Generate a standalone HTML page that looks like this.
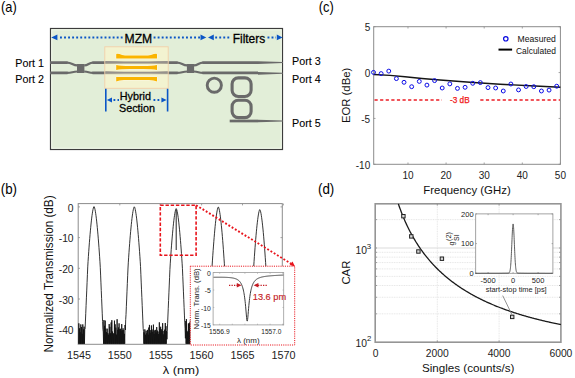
<!DOCTYPE html>
<html><head><meta charset="utf-8"><style>
html,body{margin:0;padding:0;background:#fff;width:575px;height:378px;overflow:hidden}
svg{display:block}
text{font-family:"Liberation Sans", sans-serif}
</style></head><body>
<svg width="575" height="378" viewBox="0 0 575 378">
<rect x="50.5" y="28.5" width="232" height="121" fill="#e2eed8" stroke="#3c3c3c" stroke-width="1.2"/>
<rect x="51.8" y="29.8" width="229.4" height="118.4" fill="none" stroke="#f2f8ec" stroke-width="1"/>
<text x="15.3" y="66.7" font-size="10.5" fill="#000" text-anchor="start" stroke="#000" stroke-width="0.1" textLength="28.6" lengthAdjust="spacingAndGlyphs" >Port 1</text>
<text x="15.3" y="82.8" font-size="10.5" fill="#000" text-anchor="start" stroke="#000" stroke-width="0.1" textLength="28.6" lengthAdjust="spacingAndGlyphs" >Port 2</text>
<text x="292.1" y="64.8" font-size="10.5" fill="#000" text-anchor="start" stroke="#000" stroke-width="0.1" textLength="28.6" lengthAdjust="spacingAndGlyphs" >Port 3</text>
<text x="292.1" y="82.6" font-size="10.5" fill="#000" text-anchor="start" stroke="#000" stroke-width="0.1" textLength="28.6" lengthAdjust="spacingAndGlyphs" >Port 4</text>
<text x="292.1" y="127.1" font-size="10.5" fill="#000" text-anchor="start" stroke="#000" stroke-width="0.1" textLength="28.6" lengthAdjust="spacingAndGlyphs" >Port 5</text>
<path d="M50,62.6 H67.5 M92.5,62.6 H177.5 M202.5,62.6 H258 M50,72.9 H67.5 M92.5,72.9 H177.5 M202.5,72.9 H258" fill="none" stroke="#6a6a6a" stroke-width="2.6"/>
<path d="M67,62.6 C72.30,62.60 72.30,65.40 77.60,65.40 M67,72.9 C72.30,72.90 72.30,71.50 77.60,71.50 M177,62.6 C182.20,62.60 182.20,65.40 187.40,65.40 M177,72.9 C182.20,72.90 182.20,71.50 187.40,71.50 M84.2,65.4 C88.60,65.40 88.60,62.60 93.00,62.60 M84.2,71.5 C88.60,71.50 88.60,72.90 93.00,72.90 M193.8,65.4 C198.40,65.40 198.40,62.60 203.00,62.60 M193.8,71.5 C198.40,71.50 198.40,72.90 203.00,72.90 " fill="none" stroke="#6a6a6a" stroke-width="2.2"/>
<rect x="77" y="64" width="7.4" height="9" fill="#6a6a6a"/>
<rect x="186.9" y="64" width="7.2" height="9" fill="#6a6a6a"/>
<path d="M258,61.25 L283,62.1 L283,63.1 L258,63.95 Z" fill="#6a6a6a"/>
<path d="M258,71.95000000000002 L283,72.80000000000001 L283,73.80000000000001 L258,74.65 Z" fill="#6a6a6a"/>
<path d="M258,119.65 L283,120.5 L283,121.5 L258,122.35 Z" fill="#6a6a6a"/>
<path d="M229.7,121 L258,121" stroke="#6a6a6a" stroke-width="2.7"/>
<circle cx="214.3" cy="85.2" r="7.1" fill="none" stroke="#6a6a6a" stroke-width="2.9"/>
<rect x="232.1" y="77.9" width="19.0" height="18.6" rx="6.2" fill="none" stroke="#6a6a6a" stroke-width="3.1"/>
<rect x="232.1" y="100.2" width="19.0" height="17.4" rx="6.2" fill="none" stroke="#6a6a6a" stroke-width="3.1"/>
<rect x="104.8" y="46.8" width="63.4" height="41.5" fill="rgba(255,246,202,0.58)" stroke="#f3cfa8" stroke-width="0.9"/>
<path d="M105.3,61.050000000000004 L116,61.35 L124,61.650000000000006 L149,61.650000000000006 L157,61.35 L167.7,61.050000000000004 L167.7,63.550000000000004 L157,63.25000000000001 L149,62.95 L124,62.95 L116,63.25000000000001 L105.3,63.550000000000004 Z" fill="#97928c"/>
<path d="M105.3,71.35000000000001 L116,71.65 L124,71.95 L149,71.95 L157,71.65 L167.7,71.35000000000001 L167.7,73.85000000000001 L157,73.55000000000001 L149,73.25000000000001 L124,73.25000000000001 L116,73.55000000000001 L105.3,73.85000000000001 Z" fill="#97928c"/>
<path d="M116.2,58.6 L116.2,54.6 Q116.2,53.7 117.2,53.8 L119.5,54.1 Q122,55.5 125,55.5 L148,55.5 Q151,55.5 153.8,54.1 L156,53.8 Q157,53.7 157,54.6 L157,58.6 Z" fill="#fab400" stroke="#fffbe6" stroke-width="0.9" paint-order="stroke" stroke-linejoin="round"/>
<path d="M116.2,64.9 Q121,65.9 130,65.9 L143,65.9 Q152,65.9 157,64.9 L157,69.9 Q152,68.9 143,68.9 L130,68.9 Q121,68.9 116.2,69.9 Z" fill="#fab400" stroke="#fffbe6" stroke-width="0.9" paint-order="stroke" stroke-linejoin="round"/>
<path d="M116.2,77.1 L157,77.1 L157,81.6 Q154,80.1 149,80.0 L124,80.0 Q119,80.1 116.2,81.6 Z" fill="#fab400" stroke="#fffbe6" stroke-width="0.9" paint-order="stroke" stroke-linejoin="round"/>
<path d="M105.8,88.8 V111.5 M167.6,88.8 V111.5" stroke="#0b56c6" stroke-width="1.6"/>
<path d="M106.8,100 L112,97.4 L112,102.6 Z M166.6,100 L161.4,97.4 L161.4,102.6 Z" fill="#0b56c6"/>
<path d="M113.5,100 H119 M153.5,100 H160" stroke="#0b56c6" stroke-width="1.8" stroke-dasharray="1.8 2.2"/>
<text x="119.8" y="99.8" font-size="11" fill="#000" text-anchor="start" stroke="#000" stroke-width="0.28" textLength="31.2" lengthAdjust="spacingAndGlyphs" >Hybrid</text>
<text x="119.0" y="112.3" font-size="11" fill="#000" text-anchor="start" stroke="#000" stroke-width="0.28" textLength="36" lengthAdjust="spacingAndGlyphs" >Section</text>
<path d="M51.2,37.4 L57.4,34.6 L57.4,40.2 Z M206.3,37.4 L200.5,34.6 L200.5,40.2 Z M208,37.4 L213.8,34.6 L213.8,40.2 Z M282.6,37.4 L276.8,34.6 L276.8,40.2 Z" fill="#0b56c6"/>
<path d="M60.0,37.4 H123 M153.6,37.4 H200 M215.2,37.4 H231 M267.5,37.4 H276" stroke="#0b56c6" stroke-width="2.0" stroke-dasharray="1.9 2.15"/>
<text x="124.6" y="42.7" font-size="12.4" fill="#000" text-anchor="start" stroke="#000" stroke-width="0.28" textLength="27.6" lengthAdjust="spacingAndGlyphs" >MZM</text>
<text x="232.7" y="42.9" font-size="12.2" fill="#000" text-anchor="start" stroke="#000" stroke-width="0.28" textLength="32.5" lengthAdjust="spacingAndGlyphs" >Filters</text>
<text x="1.0" y="12.0" font-size="14.6" fill="#000" text-anchor="start" textLength="15.7" lengthAdjust="spacingAndGlyphs" >(a)</text>
<rect x="373.7" y="26.7" width="186.7" height="137.6" fill="none" stroke="#8c8c8c" stroke-width="1"/>
<path d="M407.99,164.3 v-1.8 M407.99,26.7 v1.8 M446.09,164.3 v-1.8 M446.09,26.7 v1.8 M484.20,164.3 v-1.8 M484.20,26.7 v1.8 M522.30,164.3 v-1.8 M522.30,26.7 v1.8 M560.40,164.3 v-1.8 M560.40,26.7 v1.8 M373.7,26.70 h1.8 M560.4,26.70 h-1.8 M373.7,72.57 h1.8 M560.4,72.57 h-1.8 M373.7,118.43 h1.8 M560.4,118.43 h-1.8 M373.7,164.30 h1.8 M560.4,164.30 h-1.8 " stroke="#8c8c8c" stroke-width="0.8"/>
<text x="407.99" y="179.1" font-size="10" fill="#222" text-anchor="middle" >10</text>
<text x="446.09" y="179.1" font-size="10" fill="#222" text-anchor="middle" >20</text>
<text x="484.20" y="179.1" font-size="10" fill="#222" text-anchor="middle" >30</text>
<text x="522.30" y="179.1" font-size="10" fill="#222" text-anchor="middle" >40</text>
<text x="560.40" y="179.1" font-size="10" fill="#222" text-anchor="middle" >50</text>
<text x="370.2" y="31.40" font-size="10" fill="#222" text-anchor="end" >5</text>
<text x="370.2" y="77.27" font-size="10" fill="#222" text-anchor="end" >0</text>
<text x="370.2" y="123.13" font-size="10" fill="#222" text-anchor="end" >-5</text>
<text x="370.2" y="169.00" font-size="10" fill="#222" text-anchor="end" >-10</text>
<text x="423.3" y="193.5" font-size="11.4" fill="#111" text-anchor="start" textLength="87.4" lengthAdjust="spacingAndGlyphs" >Frequency (GHz)</text>
<text x="350.0" y="95.4" font-size="11.3" fill="#111" text-anchor="middle" textLength="55.4" lengthAdjust="spacingAndGlyphs" transform="rotate(-90 350.0 95.4)" >EOR (dBe)</text>
<path d="M374.5,100.1 H442 M480.3,100.1 H560" stroke="#ec1c24" stroke-width="1.5" stroke-dasharray="3.2 2.4"/>
<text x="450.0" y="103.1" font-size="8.8" fill="#f01818" text-anchor="start" textLength="19.6" lengthAdjust="spacingAndGlyphs" stroke="#f01818" stroke-width="0.25">-3 dB</text>
<path d="M373.70,74.50 L390.00,75.40 L405.00,76.80 L422.00,78.50 L440.00,80.00 L470.00,82.30 L500.00,84.20 L530.00,85.80 L560.40,87.30" fill="none" stroke="#151515" stroke-width="1.4"/>
<circle cx="373.50" cy="72.4" r="1.95" fill="none" stroke="#0a0ae6" stroke-width="1.0"/>
<circle cx="381.13" cy="73.6" r="1.95" fill="none" stroke="#0a0ae6" stroke-width="1.0"/>
<circle cx="388.77" cy="71.1" r="1.95" fill="none" stroke="#0a0ae6" stroke-width="1.0"/>
<circle cx="396.40" cy="78.6" r="1.95" fill="none" stroke="#0a0ae6" stroke-width="1.0"/>
<circle cx="404.03" cy="82.3" r="1.95" fill="none" stroke="#0a0ae6" stroke-width="1.0"/>
<circle cx="411.67" cy="86.7" r="1.95" fill="none" stroke="#0a0ae6" stroke-width="1.0"/>
<circle cx="419.30" cy="81.4" r="1.95" fill="none" stroke="#0a0ae6" stroke-width="1.0"/>
<circle cx="426.93" cy="85.1" r="1.95" fill="none" stroke="#0a0ae6" stroke-width="1.0"/>
<circle cx="434.56" cy="80.6" r="1.95" fill="none" stroke="#0a0ae6" stroke-width="1.0"/>
<circle cx="442.20" cy="88.0" r="1.95" fill="none" stroke="#0a0ae6" stroke-width="1.0"/>
<circle cx="449.83" cy="83.9" r="1.95" fill="none" stroke="#0a0ae6" stroke-width="1.0"/>
<circle cx="457.46" cy="88.4" r="1.95" fill="none" stroke="#0a0ae6" stroke-width="1.0"/>
<circle cx="465.10" cy="87.3" r="1.95" fill="none" stroke="#0a0ae6" stroke-width="1.0"/>
<circle cx="472.73" cy="83.3" r="1.95" fill="none" stroke="#0a0ae6" stroke-width="1.0"/>
<circle cx="480.36" cy="82.6" r="1.95" fill="none" stroke="#0a0ae6" stroke-width="1.0"/>
<circle cx="488.00" cy="87.6" r="1.95" fill="none" stroke="#0a0ae6" stroke-width="1.0"/>
<circle cx="495.63" cy="88.0" r="1.95" fill="none" stroke="#0a0ae6" stroke-width="1.0"/>
<circle cx="503.26" cy="91.0" r="1.95" fill="none" stroke="#0a0ae6" stroke-width="1.0"/>
<circle cx="510.89" cy="84.0" r="1.95" fill="none" stroke="#0a0ae6" stroke-width="1.0"/>
<circle cx="518.53" cy="89.9" r="1.95" fill="none" stroke="#0a0ae6" stroke-width="1.0"/>
<circle cx="526.16" cy="86.5" r="1.95" fill="none" stroke="#0a0ae6" stroke-width="1.0"/>
<circle cx="533.79" cy="86.7" r="1.95" fill="none" stroke="#0a0ae6" stroke-width="1.0"/>
<circle cx="541.43" cy="91.0" r="1.95" fill="none" stroke="#0a0ae6" stroke-width="1.0"/>
<circle cx="549.06" cy="90.1" r="1.95" fill="none" stroke="#0a0ae6" stroke-width="1.0"/>
<circle cx="556.69" cy="86.2" r="1.95" fill="none" stroke="#0a0ae6" stroke-width="1.0"/>
<circle cx="505.8" cy="38.8" r="2.2" fill="none" stroke="#0a0ae0" stroke-width="1.2"/>
<path d="M498.5,49.6 H512.1" stroke="#000" stroke-width="2"/>
<text x="517.6" y="42.2" font-size="8.7" fill="#111" text-anchor="start" textLength="38.3" lengthAdjust="spacingAndGlyphs" >Measured</text>
<text x="516.0" y="53.5" font-size="8.7" fill="#111" text-anchor="start" textLength="39.9" lengthAdjust="spacingAndGlyphs" >Calculated</text>
<text x="318.7" y="12.1" font-size="14.6" fill="#000" text-anchor="start" textLength="15.0" lengthAdjust="spacingAndGlyphs" >(c)</text>
<rect x="78.2" y="203.6" width="204.1" height="140.7" fill="none" stroke="#8c8c8c" stroke-width="1"/>
<path d="M119.80,344.3 v-1.8 M119.80,203.6 v1.8 M160.70,344.3 v-1.8 M160.70,203.6 v1.8 M201.60,344.3 v-1.8 M201.60,203.6 v1.8 M242.50,344.3 v-1.8 M242.50,203.6 v1.8 M283.40,344.3 v-1.8 M283.40,203.6 v1.8 M78.2,206.90 h1.8 M282.3,206.90 h-1.8 M78.2,237.60 h1.8 M282.3,237.60 h-1.8 M78.2,268.30 h1.8 M282.3,268.30 h-1.8 M78.2,299.00 h1.8 M282.3,299.00 h-1.8 M78.2,329.70 h1.8 M282.3,329.70 h-1.8 " stroke="#8c8c8c" stroke-width="0.8"/>
<text x="78.90" y="359.1" font-size="10.8" fill="#222" text-anchor="middle" >1545</text>
<text x="119.80" y="359.1" font-size="10.8" fill="#222" text-anchor="middle" >1550</text>
<text x="160.70" y="359.1" font-size="10.8" fill="#222" text-anchor="middle" >1555</text>
<text x="201.60" y="359.1" font-size="10.8" fill="#222" text-anchor="middle" >1560</text>
<text x="242.50" y="359.1" font-size="10.8" fill="#222" text-anchor="middle" >1565</text>
<text x="283.40" y="359.1" font-size="10.8" fill="#222" text-anchor="middle" >1570</text>
<text x="73.6" y="211.50" font-size="10.3" fill="#222" text-anchor="end" >0</text>
<text x="73.6" y="242.20" font-size="10.3" fill="#222" text-anchor="end" >-10</text>
<text x="73.6" y="272.90" font-size="10.3" fill="#222" text-anchor="end" >-20</text>
<text x="73.6" y="303.60" font-size="10.3" fill="#222" text-anchor="end" >-30</text>
<text x="73.6" y="334.30" font-size="10.3" fill="#222" text-anchor="end" >-40</text>
<text x="53.0" y="273.9" font-size="12.0" fill="#111" text-anchor="middle" textLength="157" lengthAdjust="spacingAndGlyphs" transform="rotate(-90 53.0 273.9)" >Normalized Transmission (dB)</text>
<text x="162.8" y="374.2" font-size="11.4" fill="#111" text-anchor="start" textLength="36.5" lengthAdjust="spacingAndGlyphs" >λ (nm)</text>
<text x="0.7" y="194.1" font-size="14.6" fill="#000" text-anchor="start" textLength="16.3" lengthAdjust="spacingAndGlyphs" >(b)</text>
<path d="M78.50,343.80 L78.83,323.35 L79.16,343.80 L79.49,328.34 L79.82,343.80 L80.15,332.23 L80.48,343.80 L80.81,324.43 L81.14,343.80 L81.47,327.00 L81.80,343.80 L82.13,333.82 L82.46,343.80 L82.79,324.40 L83.12,343.80 L83.45,329.46 L83.78,343.80 L84.11,326.71 L84.44,343.80 L84.77,329.15 L85.10,328.81 L85.43,321.07 L85.76,313.33 L86.09,305.58 L86.42,297.84 L86.75,290.10 L87.08,282.36 L87.41,274.62 L87.74,266.87 L88.07,261.38 L88.40,256.45 L88.73,251.69 L89.06,247.13 L89.39,242.76 L89.72,238.59 L90.05,234.62 L90.38,230.87 L90.71,227.32 L91.04,224.01 L91.37,220.92 L91.70,218.08 L92.03,215.49 L92.36,213.17 L92.69,211.14 L93.02,209.41 L93.35,208.03 L93.68,207.04 L94.01,206.60 L94.34,207.09 L94.67,208.10 L95.00,209.50 L95.33,211.25 L95.66,213.30 L95.99,215.64 L96.32,218.25 L96.65,221.10 L96.98,224.20 L97.31,227.53 L97.64,231.09 L97.97,234.86 L98.30,238.84 L98.63,243.02 L98.96,247.40 L99.29,251.98 L99.62,256.74 L99.95,261.69 L100.28,267.34 L100.61,275.08 L100.94,282.83 L101.27,290.57 L101.60,298.31 L101.93,306.05 L102.26,313.80 L102.59,321.54 L102.92,329.28 L103.25,331.91 L103.58,343.80 L103.91,320.08 L104.24,343.80 L104.57,325.80 L104.90,343.80 L105.23,320.61 L105.56,343.80 L105.89,328.65 L106.22,343.80 L106.55,332.13 L106.88,343.80 L107.21,328.67 L107.54,343.80 L107.87,333.05 L108.20,343.80 L108.53,334.63 L108.86,343.80 L109.19,324.07 L109.52,343.80 L109.85,326.85 L110.18,343.80 L110.51,333.30 L110.84,343.80 L111.17,322.44 L111.50,343.80 L111.83,320.18 L112.16,343.80 L112.49,331.57 L112.82,343.80 L113.15,333.37 L113.48,343.80 L113.81,333.56 L114.14,343.80 L114.47,320.65 L114.80,343.80 L115.13,324.33 L115.46,343.80 L115.79,327.65 L116.12,343.80 L116.45,334.65 L116.78,343.80 L117.11,319.23 L117.44,343.80 L117.77,329.79 L118.10,343.80 L118.43,327.45 L118.76,343.80 L119.09,323.37 L119.42,343.80 L119.75,329.20 L120.08,343.80 L120.41,328.78 L120.74,343.80 L121.07,330.65 L121.40,343.80 L121.73,324.08 L122.06,343.80 L122.39,330.19 L122.72,343.80 L123.05,328.32 L123.38,343.80 L123.71,330.01 L124.04,343.80 L124.37,333.85 L124.70,343.80 L125.03,324.99 L125.36,329.95 L125.69,319.61 L126.02,314.47 L126.35,306.72 L126.68,298.98 L127.01,291.24 L127.34,283.50 L127.67,275.75 L128.00,268.01 L128.33,262.20 L128.66,257.23 L128.99,252.46 L129.32,247.87 L129.65,243.48 L129.98,239.28 L130.31,235.29 L130.64,231.51 L130.97,227.94 L131.30,224.60 L131.63,221.48 L131.96,218.61 L132.29,215.99 L132.62,213.64 L132.95,211.57 L133.28,209.80 L133.61,208.37 L133.94,207.34 L134.27,206.81 L134.60,207.20 L134.93,208.16 L135.26,209.52 L135.59,211.22 L135.92,213.24 L136.25,215.54 L136.58,218.12 L136.91,220.94 L137.24,224.01 L137.57,227.32 L137.90,230.84 L138.23,234.59 L138.56,238.54 L138.89,242.70 L139.22,247.06 L139.55,251.61 L139.88,256.35 L140.21,261.28 L140.54,266.60 L140.87,274.35 L141.20,282.09 L141.53,289.83 L141.86,297.57 L142.19,305.31 L142.52,313.06 L142.85,320.80 L143.18,328.54 L143.51,331.30 L143.84,343.80 L144.17,332.57 L144.50,343.80 L144.83,329.37 L145.16,343.80 L145.49,334.68 L145.82,343.80 L146.15,330.73 L146.48,343.80 L146.81,333.27 L147.14,343.80 L147.47,329.88 L147.80,343.80 L148.13,334.73 L148.46,343.80 L148.79,327.56 L149.12,343.80 L149.45,324.91 L149.78,343.80 L150.11,332.82 L150.44,343.80 L150.77,330.13 L151.10,343.80 L151.43,325.48 L151.76,343.80 L152.09,329.55 L152.42,343.80 L152.75,331.77 L153.08,343.80 L153.41,324.63 L153.74,343.80 L154.07,333.90 L154.40,343.80 L154.73,330.45 L155.06,343.80 L155.39,329.87 L155.72,343.80 L156.05,332.48 L156.38,343.80 L156.71,327.08 L157.04,343.80 L157.37,330.55 L157.70,343.80 L158.03,331.53 L158.36,343.80 L158.69,334.01 L159.02,343.80 L159.35,322.35 L159.68,343.80 L160.01,328.52 L160.34,343.80 L160.67,326.75 L161.00,343.80 L161.33,329.34 L161.66,343.80 L161.99,330.97 L162.32,343.80 L162.65,323.15 L162.98,343.80 L163.31,334.36 L163.64,343.80 L163.97,331.02 L164.30,343.80 L164.63,329.69 L164.96,343.80 L165.29,322.99 L165.62,343.80 L165.95,326.17 L166.28,343.80 L166.61,330.96 L166.94,339.26 L167.27,331.52 L167.60,323.77 L167.93,316.03 L168.26,308.29 L168.59,300.55 L168.92,292.80 L169.25,285.06 L169.58,277.32 L169.91,269.58 L170.24,263.84 L170.57,258.89 L170.90,254.12 L171.23,249.54 L171.56,245.15 L171.89,240.96 L172.22,236.97 L172.55,233.20 L172.88,229.64 L173.21,226.30 L173.54,223.19 L173.87,220.33 L174.20,217.72 L174.53,215.37 L174.86,213.31 L175.19,211.55 L175.52,210.14 L175.85,209.11 L176.18,208.60 L176.51,209.02 L176.84,209.99 L177.17,211.36 L177.50,213.08 L177.83,215.10 L178.16,217.42 L178.49,220.00 L178.82,222.83 L179.15,225.91 L179.48,229.22 L179.81,232.75 L180.14,236.51 L180.47,240.47 L180.80,244.63 L181.13,248.99 L181.46,253.55 L181.79,258.30 L182.12,263.23 L182.45,268.64 L182.78,276.38 L183.11,284.12 L183.44,291.86 L183.77,299.61 L184.10,307.35 L184.43,315.09 L184.76,322.83 L185.09,328.65 L185.42,338.32 L185.75,321.07 L186.08,343.80 L186.41,319.09 L186.74,343.80 L187.07,330.90 L187.40,343.80 L187.73,332.15 L188.06,343.80 L188.39,323.45 L188.72,343.80 L189.05,323.70 L189.38,343.80 L189.71,322.56 L190.04,343.80 L190.37,320.07 L190.70,343.80 L191.03,331.92 L191.36,343.80 L191.69,333.44 L192.02,343.80 L192.35,323.79 L192.68,343.80 L193.01,329.93 L193.34,343.80 L193.67,325.70 L194.00,343.80 L194.33,329.17 L194.66,343.80 L194.99,328.76 L195.32,343.80 L195.65,329.65 L195.98,343.80 L196.31,330.43 L196.64,343.80 L196.97,331.98 L197.30,343.80 L197.63,323.01 L197.96,343.80 L198.29,333.19 L198.62,343.80 L198.95,330.54 L199.28,343.80 L199.61,324.88 L199.94,343.80 L200.27,326.40 L200.60,343.80 L200.93,326.76 L201.26,343.80 L201.59,324.03 L201.92,343.80 L202.25,325.66 L202.58,343.80 L202.91,329.57 L203.24,343.80 L203.57,322.28 L203.90,343.80 L204.23,330.69 L204.56,343.80 L204.89,329.82 L205.22,343.80 L205.55,328.27 L205.88,343.80 L206.21,331.16 L206.54,343.80 L206.87,332.76 L207.20,343.80 L207.53,328.29 L207.86,343.80 L208.19,328.27 L208.52,343.80 L208.85,329.56 L209.18,334.37 L209.51,325.45 L209.84,318.89 L210.17,311.15 L210.50,303.40 L210.83,295.66 L211.16,287.92 L211.49,280.18 L211.82,272.43 L212.15,265.18 L212.48,260.12 L212.81,255.24 L213.14,250.55 L213.47,246.05 L213.80,241.75 L214.13,237.64 L214.46,233.75 L214.79,230.06 L215.12,226.59 L215.45,223.35 L215.78,220.35 L216.11,217.59 L216.44,215.09 L216.77,212.86 L217.10,210.92 L217.43,209.31 L217.76,208.05 L218.09,207.22 L218.42,207.09 L218.75,207.78 L219.08,208.93 L219.41,210.45 L219.74,212.30 L220.07,214.45 L220.40,216.88 L220.73,219.57 L221.06,222.51 L221.39,225.69 L221.72,229.09 L222.05,232.72 L222.38,236.56 L222.71,240.61 L223.04,244.86 L223.37,249.30 L223.70,253.94 L224.03,258.77 L224.36,263.78 L224.69,270.32 L225.02,278.06 L225.35,285.81 L225.68,293.55 L226.01,301.29 L226.34,309.03 L226.67,316.78 L227.00,324.52 L227.33,325.51 L227.66,340.00 L227.99,325.22 L228.32,343.80 L228.65,333.18 L228.98,343.80 L229.31,328.20 L229.64,343.80 L229.97,327.16 L230.30,343.80 L230.63,326.93 L230.96,343.80 L231.29,333.71 L231.62,343.80 L231.95,329.75 L232.28,343.80 L232.61,326.20 L232.94,343.80 L233.27,320.46 L233.60,343.80 L233.93,319.26 L234.26,343.80 L234.59,333.12 L234.92,343.80 L235.25,329.48 L235.58,343.80 L235.91,317.66 L236.24,343.80 L236.57,318.26 L236.90,343.80 L237.23,334.36 L237.56,343.80 L237.89,325.52 L238.22,343.80 L238.55,332.42 L238.88,343.80 L239.21,326.80 L239.54,343.80 L239.87,327.50 L240.20,343.80 L240.53,332.09 L240.86,343.80 L241.19,329.68 L241.52,343.80 L241.85,334.94 L242.18,343.80 L242.51,321.21 L242.84,343.80 L243.17,331.03 L243.50,343.80 L243.83,331.91 L244.16,343.80 L244.49,329.42 L244.82,343.80 L245.15,324.02 L245.48,343.80 L245.81,320.34 L246.14,343.80 L246.47,326.86 L246.80,343.80 L247.13,319.88 L247.46,343.80 L247.79,329.74 L248.12,343.80 L248.45,332.51 L248.78,343.80 L249.11,334.18 L249.44,343.80 L249.77,324.70 L250.10,343.80 L250.43,330.94 L250.76,335.10 L251.09,324.86 L251.42,319.61 L251.75,311.87 L252.08,304.13 L252.41,296.38 L252.74,288.64 L253.07,280.90 L253.40,273.16 L253.73,266.54 L254.06,261.52 L254.39,256.69 L254.72,252.04 L255.05,247.59 L255.38,243.33 L255.71,239.28 L256.04,235.43 L256.37,231.80 L256.70,228.39 L257.03,225.20 L257.36,222.26 L257.69,219.56 L258.02,217.12 L258.35,214.96 L258.68,213.10 L259.01,211.57 L259.34,210.41 L259.67,209.70 L260.00,209.80 L260.33,210.62 L260.66,211.86 L260.99,213.47 L261.32,215.40 L261.65,217.62 L261.98,220.11 L262.31,222.86 L262.64,225.86 L262.97,229.09 L263.30,232.55 L263.63,236.23 L263.96,240.12 L264.29,244.22 L264.62,248.52 L264.95,253.01 L265.28,257.70 L265.61,262.57 L265.94,267.62 L266.27,274.80 L266.60,282.54 L266.93,290.28 L267.26,298.03 L267.59,305.77 L267.92,313.51 L268.25,321.25 L268.58,329.00 L268.91,322.79 L269.24,343.80 L269.57,334.29 L269.90,343.80 L270.23,323.42 L270.56,343.80 L270.89,330.83 L271.22,343.80 L271.55,327.72 L271.88,343.80 L272.21,329.23 L272.54,343.80 L272.87,334.14 L273.20,343.80 L273.53,327.11 L273.86,343.80 L274.19,319.86 L274.52,343.80 L274.85,334.75 L275.18,343.80 L275.51,317.88 L275.84,343.80 L276.17,320.77 L276.50,343.80 L276.83,330.35 L277.16,343.80 L277.49,327.09 L277.82,343.80 L278.15,329.98 L278.48,343.80 L278.81,321.30 L279.14,343.80 L279.47,325.75 L279.80,343.80 L280.13,333.10 L280.46,343.80 L280.79,321.61 L281.12,343.80 L281.45,334.46 L281.78,343.80" fill="none" stroke="#111" stroke-width="0.85"/>
<path d="M176.2,210 V250" stroke="#222" stroke-width="1"/>
<rect x="160.3" y="205.2" width="35.8" height="50" fill="none" stroke="#e8141c" stroke-width="1.6" stroke-dasharray="3.4 1.8"/>
<path d="M196.1,205.2 L291,263.6" stroke="#e8141c" stroke-width="1.9" stroke-dasharray="1.9 1.9"/>
<rect x="190.3" y="266.2" width="104.4" height="78.8" fill="#fff" stroke="#e8141c" stroke-width="1" stroke-dasharray="1.1 1.1"/>
<path d="M295.0,266.4 L289.6,265.0 L292.5,261.4 Z" fill="#e8141c"/>
<rect x="213.1" y="272.6" width="70.6" height="52.3" fill="none" stroke="#9a9a9a" stroke-width="0.8"/>
<path d="M219.70,272.6 v1.2 M219.70,324.9 v-1.2 M232.30,272.6 v1.2 M232.30,324.9 v-1.2 M244.90,272.6 v1.2 M244.90,324.9 v-1.2 M257.50,272.6 v1.2 M257.50,324.9 v-1.2 M270.10,272.6 v1.2 M270.10,324.9 v-1.2 M282.70,272.6 v1.2 M282.70,324.9 v-1.2 M213.1,272.60 h1.2 M283.7,272.60 h-1.2 M213.1,290.03 h1.2 M283.7,290.03 h-1.2 M213.1,307.47 h1.2 M283.7,307.47 h-1.2 M213.1,324.90 h1.2 M283.7,324.90 h-1.2 " stroke="#9a9a9a" stroke-width="0.6"/>
<text x="210.9" y="275.80" font-size="6.8" fill="#222" text-anchor="end" >0</text>
<text x="210.9" y="293.23" font-size="6.8" fill="#222" text-anchor="end" >-5</text>
<text x="210.9" y="310.67" font-size="6.8" fill="#222" text-anchor="end" >-10</text>
<text x="210.9" y="328.10" font-size="6.8" fill="#222" text-anchor="end" >-15</text>
<text x="209.1" y="334.4" font-size="7.8" fill="#222" text-anchor="start" textLength="20.6" lengthAdjust="spacingAndGlyphs" >1556.9</text>
<text x="261.3" y="334.4" font-size="7.8" fill="#222" text-anchor="start" textLength="20.0" lengthAdjust="spacingAndGlyphs" >1557.0</text>
<text x="237.0" y="343.0" font-size="8.0" fill="#222" text-anchor="start" textLength="22.6" lengthAdjust="spacingAndGlyphs" >λ (nm)</text>
<text x="199.4" y="298.9" font-size="7.6" fill="#222" text-anchor="middle" textLength="61" lengthAdjust="spacingAndGlyphs" transform="rotate(-90 199.4 298.9)" >Norm. Trans. (dB)</text>
<path d="M213.60,277.27 L213.85,277.27 L214.10,277.26 L214.35,277.26 L214.60,277.26 L214.85,277.25 L215.10,277.25 L215.35,277.25 L215.60,277.24 L215.85,277.24 L216.10,277.24 L216.35,277.24 L216.60,277.24 L216.85,277.23 L217.10,277.23 L217.35,277.23 L217.60,277.23 L217.85,277.23 L218.10,277.23 L218.35,277.23 L218.60,277.23 L218.85,277.23 L219.10,277.23 L219.35,277.23 L219.60,277.23 L219.85,277.23 L220.10,277.23 L220.35,277.23 L220.60,277.23 L220.85,277.23 L221.10,277.23 L221.35,277.23 L221.60,277.24 L221.85,277.24 L222.10,277.24 L222.35,277.25 L222.60,277.25 L222.85,277.25 L223.10,277.26 L223.35,277.26 L223.60,277.27 L223.85,277.27 L224.10,277.28 L224.35,277.29 L224.60,277.29 L224.85,277.30 L225.10,277.31 L225.35,277.32 L225.60,277.33 L225.85,277.34 L226.10,277.35 L226.35,277.36 L226.60,277.37 L226.85,277.38 L227.10,277.40 L227.35,277.41 L227.60,277.42 L227.85,277.44 L228.10,277.46 L228.35,277.47 L228.60,277.49 L228.85,277.51 L229.10,277.53 L229.35,277.55 L229.60,277.58 L229.85,277.60 L230.10,277.63 L230.35,277.65 L230.60,277.68 L230.85,277.71 L231.10,277.74 L231.35,277.78 L231.60,277.81 L231.85,277.85 L232.10,277.89 L232.35,277.93 L232.60,277.97 L232.85,278.02 L233.10,278.07 L233.35,278.12 L233.60,278.18 L233.85,278.24 L234.10,278.30 L234.35,278.36 L234.60,278.43 L234.85,278.51 L235.10,278.58 L235.35,278.67 L235.60,278.76 L235.85,278.85 L236.10,278.95 L236.35,279.06 L236.60,279.17 L236.85,279.30 L237.10,279.43 L237.35,279.57 L237.60,279.72 L237.85,279.88 L238.10,280.05 L238.35,280.23 L238.60,280.43 L238.85,280.64 L239.10,280.88 L239.35,281.12 L239.60,281.39 L239.85,281.68 L240.10,282.00 L240.35,282.34 L240.60,282.71 L240.85,283.12 L241.10,283.56 L241.35,284.04 L241.60,284.57 L241.85,285.15 L242.10,285.78 L242.35,286.48 L242.60,287.24 L242.85,288.09 L243.10,289.02 L243.35,290.05 L243.60,291.20 L243.85,292.47 L244.10,293.88 L244.35,295.44 L244.60,297.18 L244.85,299.11 L245.10,301.26 L245.35,303.63 L245.60,306.22 L245.85,309.03 L246.10,311.99 L246.35,314.98 L246.60,317.75 L246.85,319.94 L247.10,321.12 L247.35,320.97 L247.60,319.55 L247.85,317.19 L248.10,314.33 L248.35,311.32 L248.60,308.36 L248.85,305.58 L249.10,303.02 L249.35,300.68 L249.60,298.56 L249.85,296.65 L250.10,294.93 L250.35,293.39 L250.60,291.99 L250.85,290.73 L251.10,289.60 L251.35,288.57 L251.60,287.64 L251.85,286.79 L252.10,286.03 L252.35,285.33 L252.60,284.69 L252.85,284.11 L253.10,283.58 L253.35,283.09 L253.60,282.64 L253.85,282.22 L254.10,281.84 L254.35,281.49 L254.60,281.16 L254.85,280.86 L255.10,280.58 L255.35,280.32 L255.60,280.08 L255.85,279.85 L256.10,279.64 L256.35,279.45 L256.60,279.26 L256.85,279.09 L257.10,278.92 L257.35,278.77 L257.60,278.63 L257.85,278.49 L258.10,278.36 L258.35,278.24 L258.60,278.13 L258.85,278.02 L259.10,277.91 L259.35,277.82 L259.60,277.72 L259.85,277.63 L260.10,277.55 L260.35,277.47 L260.60,277.39 L260.85,277.32 L261.10,277.25 L261.35,277.18 L261.60,277.12 L261.85,277.06 L262.10,277.00 L262.35,276.94 L262.60,276.89 L262.85,276.83 L263.10,276.78 L263.35,276.73 L263.60,276.69 L263.85,276.64 L264.10,276.60 L264.35,276.56 L264.60,276.52 L264.85,276.48 L265.10,276.44 L265.35,276.40 L265.60,276.37 L265.85,276.33 L266.10,276.30 L266.35,276.26 L266.60,276.23 L266.85,276.20 L267.10,276.17 L267.35,276.14 L267.60,276.11 L267.85,276.09 L268.10,276.06 L268.35,276.03 L268.60,276.01 L268.85,275.98 L269.10,275.96 L269.35,275.93 L269.60,275.91 L269.85,275.89 L270.10,275.86 L270.35,275.84 L270.60,275.82 L270.85,275.80 L271.10,275.78 L271.35,275.76 L271.60,275.74 L271.85,275.72 L272.10,275.70 L272.35,275.68 L272.60,275.66 L272.85,275.65 L273.10,275.63 L273.35,275.61 L273.60,275.59 L273.85,275.58 L274.10,275.56 L274.35,275.54 L274.60,275.53 L274.85,275.51 L275.10,275.49 L275.35,275.48 L275.60,275.46 L275.85,275.45 L276.10,275.43 L276.35,275.42 L276.60,275.40 L276.85,275.39 L277.10,275.38 L277.35,275.36 L277.60,275.35 L277.85,275.33 L278.10,275.32 L278.35,275.31 L278.60,275.29 L278.85,275.28 L279.10,275.27 L279.35,275.26 L279.60,275.24 L279.85,275.23 L280.10,275.22 L280.35,275.21 L280.60,275.19 L280.85,275.18 L281.10,275.17 L281.35,275.16 L281.60,275.15 L281.85,275.13 L282.10,275.12 L282.35,275.11 L282.60,275.10 L282.85,275.09 L283.10,275.08 L283.35,275.07" fill="none" stroke="#3a3a3a" stroke-width="1.0"/>
<path d="M229,285.3 H237.5 M258,285.3 H268" stroke="#c41c24" stroke-width="1.2" stroke-dasharray="1.3 1.2"/>
<path d="M241.6,285.3 L236.8,283 L236.8,287.6 Z M253.6,285.3 L258.4,283 L258.4,287.6 Z" fill="#c41c24"/>
<text x="252.8" y="299.6" font-size="9.2" fill="#c41c24" text-anchor="start" textLength="33.3" lengthAdjust="spacingAndGlyphs" stroke="#c41c24" stroke-width="0.15">13.6 pm</text>
<path d="M375.2,313.84 H560.9 M375.2,297.26 H560.9 M375.2,285.49 H560.9 M375.2,276.36 H560.9 M375.2,268.90 H560.9 M375.2,262.59 H560.9 M375.2,257.13 H560.9 M375.2,252.31 H560.9 M375.2,219.64 H560.9 M437.30,203.8 V342.2 M499.10,203.8 V342.2 " stroke="#e6e6e6" stroke-width="1" stroke-dasharray="1 0.7"/>
<path d="M375.2,248.00 H560.9" stroke="#dcdcdc" stroke-width="1.2"/>
<path d="M375.2,313.84 h1.6 M560.9,313.84 h-1.6 M375.2,297.26 h1.6 M560.9,297.26 h-1.6 M375.2,285.49 h1.6 M560.9,285.49 h-1.6 M375.2,276.36 h1.6 M560.9,276.36 h-1.6 M375.2,268.90 h1.6 M560.9,268.90 h-1.6 M375.2,262.59 h1.6 M560.9,262.59 h-1.6 M375.2,257.13 h1.6 M560.9,257.13 h-1.6 M375.2,252.31 h1.6 M560.9,252.31 h-1.6 M375.2,248.00 h1.6 M560.9,248.00 h-1.6 M375.2,219.64 h1.6 M560.9,219.64 h-1.6 " stroke="#666" stroke-width="0.8"/>
<rect x="375.2" y="203.8" width="185.7" height="138.4" fill="none" stroke="#959595" stroke-width="1.6"/>
<path d="M437.30,342.2 v-1.8 M437.30,203.8 v1.8 M499.10,342.2 v-1.8 M499.10,203.8 v1.8 " stroke="#8c8c8c" stroke-width="0.8"/>
<text x="375.50" y="357.2" font-size="10.3" fill="#222" text-anchor="middle" >0</text>
<text x="437.30" y="357.2" font-size="10.3" fill="#222" text-anchor="middle" >2000</text>
<text x="499.10" y="357.2" font-size="10.3" fill="#222" text-anchor="middle" >4000</text>
<text x="560.90" y="357.2" font-size="10.3" fill="#222" text-anchor="middle" >6000</text>
<text x="355.5" y="254.2" font-size="10.3" fill="#222" text-anchor="start" >10</text>
<text x="366.7" y="248.6" font-size="7.8" fill="#222" text-anchor="start" >3</text>
<text x="355.5" y="347.0" font-size="10.3" fill="#222" text-anchor="start" >10</text>
<text x="366.9" y="341.4" font-size="7.8" fill="#222" text-anchor="start" >2</text>
<text x="350.3" y="272.6" font-size="11.4" fill="#111" text-anchor="middle" textLength="24" lengthAdjust="spacingAndGlyphs" transform="rotate(-90 350.3 272.6)" >CAR</text>
<text x="421.9" y="371.5" font-size="11.6" fill="#111" text-anchor="start" textLength="92.5" lengthAdjust="spacingAndGlyphs" >Singles (counts/s)</text>
<text x="318.0" y="194.1" font-size="14.6" fill="#000" text-anchor="start" textLength="16.3" lengthAdjust="spacingAndGlyphs" >(d)</text>
<path d="M398.37,203.86 L398.98,205.67 L399.60,207.43 L400.22,209.15 L400.84,210.81 L401.46,212.44 L402.07,214.03 L402.69,215.57 L403.31,217.08 L403.93,218.56 L404.55,220.00 L405.16,221.41 L405.78,222.79 L406.40,224.14 L407.02,225.46 L407.64,226.76 L408.25,228.02 L408.87,229.27 L409.49,230.48 L410.11,231.68 L410.73,232.85 L411.34,234.00 L411.96,235.12 L412.58,236.23 L413.20,237.32 L413.82,238.38 L414.43,239.43 L415.05,240.46 L415.67,241.48 L416.29,242.47 L416.91,243.45 L417.52,244.41 L418.14,245.36 L418.76,246.29 L419.38,247.21 L420.00,248.11 L420.61,249.00 L421.23,249.88 L421.85,250.74 L422.47,251.59 L423.09,252.43 L423.70,253.25 L424.32,254.07 L424.94,254.87 L425.56,255.66 L426.18,256.43 L426.79,257.20 L427.41,257.96 L428.03,258.71 L428.65,259.44 L429.27,260.17 L429.88,260.89 L430.50,261.59 L431.12,262.29 L431.74,262.98 L432.36,263.66 L432.97,264.33 L433.59,265.00 L434.21,265.65 L434.83,266.30 L435.45,266.94 L436.06,267.57 L436.68,268.19 L437.30,268.81 L437.92,269.42 L438.54,270.02 L439.15,270.61 L439.77,271.20 L440.39,271.78 L441.01,272.35 L441.63,272.92 L442.24,273.48 L442.86,274.04 L443.48,274.59 L444.10,275.13 L444.72,275.66 L445.33,276.19 L445.95,276.72 L446.57,277.24 L447.19,277.75 L447.81,278.26 L448.42,278.76 L449.04,279.26 L449.66,279.75 L450.28,280.23 L450.90,280.71 L451.51,281.19 L452.13,281.66 L452.75,282.13 L453.37,282.59 L453.99,283.05 L454.60,283.50 L455.22,283.95 L455.84,284.39 L456.46,284.83 L457.08,285.27 L457.69,285.70 L458.31,286.12 L458.93,286.54 L459.55,286.96 L460.17,287.38 L460.78,287.79 L461.40,288.19 L462.02,288.59 L462.64,288.99 L463.26,289.39 L463.87,289.78 L464.49,290.17 L465.11,290.55 L465.73,290.93 L466.35,291.31 L466.96,291.68 L467.58,292.05 L468.20,292.42 L468.82,292.78 L469.44,293.14 L470.05,293.49 L470.67,293.85 L471.29,294.20 L471.91,294.55 L472.53,294.89 L473.14,295.23 L473.76,295.57 L474.38,295.90 L475.00,296.24 L475.62,296.57 L476.23,296.89 L476.85,297.22 L477.47,297.54 L478.09,297.86 L478.71,298.17 L479.32,298.48 L479.94,298.79 L480.56,299.10 L481.18,299.41 L481.80,299.71 L482.41,300.01 L483.03,300.31 L483.65,300.60 L484.27,300.90 L484.89,301.19 L485.50,301.47 L486.12,301.76 L486.74,302.04 L487.36,302.32 L487.98,302.60 L488.59,302.88 L489.21,303.15 L489.83,303.43 L490.45,303.70 L491.07,303.96 L491.68,304.23 L492.30,304.49 L492.92,304.75 L493.54,305.01 L494.16,305.27 L494.77,305.53 L495.39,305.78 L496.01,306.03 L496.63,306.28 L497.25,306.53 L497.86,306.77 L498.48,307.02 L499.10,307.26 L499.72,307.50 L500.34,307.74 L500.95,307.98 L501.57,308.21 L502.19,308.44 L502.81,308.68 L503.43,308.90 L504.04,309.13 L504.66,309.36 L505.28,309.58 L505.90,309.81 L506.52,310.03 L507.13,310.25 L507.75,310.47 L508.37,310.68 L508.99,310.90 L509.61,311.11 L510.22,311.32 L510.84,311.53 L511.46,311.74 L512.08,311.95 L512.70,312.15 L513.31,312.36 L513.93,312.56 L514.55,312.76 L515.17,312.96 L515.79,313.16 L516.40,313.36 L517.02,313.55 L517.64,313.75 L518.26,313.94 L518.88,314.13 L519.49,314.32 L520.11,314.51 L520.73,314.70 L521.35,314.89 L521.97,315.07 L522.58,315.26 L523.20,315.44 L523.82,315.62 L524.44,315.80 L525.06,315.98 L525.67,316.16 L526.29,316.33 L526.91,316.51 L527.53,316.68 L528.15,316.86 L528.76,317.03 L529.38,317.20 L530.00,317.37 L530.62,317.54 L531.24,317.71 L531.85,317.87 L532.47,318.04 L533.09,318.20 L533.71,318.36 L534.33,318.53 L534.94,318.69 L535.56,318.85 L536.18,319.00 L536.80,319.16 L537.42,319.32 L538.03,319.47 L538.65,319.63 L539.27,319.78 L539.89,319.94 L540.51,320.09 L541.12,320.24 L541.74,320.39 L542.36,320.54 L542.98,320.69 L543.60,320.83 L544.21,320.98 L544.83,321.12 L545.45,321.27 L546.07,321.41 L546.69,321.55 L547.30,321.69 L547.92,321.84 L548.54,321.97 L549.16,322.11 L549.78,322.25 L550.39,322.39 L551.01,322.53 L551.63,322.66 L552.25,322.80 L552.87,322.93 L553.48,323.06 L554.10,323.19 L554.72,323.33 L555.34,323.46 L555.96,323.59 L556.57,323.71 L557.19,323.84 L557.81,323.97 L558.43,324.10 L559.05,324.22 L559.66,324.35 L560.28,324.47 L560.90,324.60" fill="none" stroke="#1a1a1a" stroke-width="1.3"/>
<rect x="401.70" y="214.50" width="3.4" height="3.4" fill="#d8d8d8" stroke="#222" stroke-width="1"/>
<rect x="409.60" y="234.70" width="3.4" height="3.4" fill="#d8d8d8" stroke="#222" stroke-width="1"/>
<rect x="416.70" y="249.80" width="3.4" height="3.4" fill="#d8d8d8" stroke="#222" stroke-width="1"/>
<rect x="440.20" y="257.00" width="3.4" height="3.4" fill="#d8d8d8" stroke="#222" stroke-width="1"/>
<rect x="510.50" y="315.20" width="3.4" height="3.4" fill="#d8d8d8" stroke="#222" stroke-width="1"/>
<path d="M502.7,295.6 L512.1,315" stroke="#777" stroke-width="0.8"/>
<rect x="475.7" y="213.9" width="77.2" height="59.4" fill="#fff"/>
<rect x="475.7" y="213.9" width="77.2" height="59.4" fill="none" stroke="#8c8c8c" stroke-width="0.8"/>
<path d="M488.10,273.3 v-1.3 M488.10,213.9 v1.3 M513.10,273.3 v-1.3 M513.10,213.9 v1.3 M538.10,273.3 v-1.3 M538.10,213.9 v1.3 M475.7,273.30 h1.3 M552.9,273.30 h-1.3 M475.7,243.60 h1.3 M552.9,243.60 h-1.3 M475.7,213.90 h1.3 M552.9,213.90 h-1.3 " stroke="#7a7a7a" stroke-width="0.6"/>
<text x="473.6" y="276.00" font-size="7.5" fill="#222" text-anchor="end" >0</text>
<text x="473.6" y="246.30" font-size="7.5" fill="#222" text-anchor="end" >100</text>
<text x="473.6" y="216.60" font-size="7.5" fill="#222" text-anchor="end" >200</text>
<text x="488.10" y="283.3" font-size="7.5" fill="#222" text-anchor="middle" >-500</text>
<text x="513.10" y="283.3" font-size="7.5" fill="#222" text-anchor="middle" >0</text>
<text x="538.10" y="283.3" font-size="7.5" fill="#222" text-anchor="middle" >500</text>
<text x="485.7" y="292.0" font-size="7.4" fill="#222" text-anchor="start" textLength="61" lengthAdjust="spacingAndGlyphs" >start-stop time [ps]</text>
<text x="454.4" y="245.4" font-size="7.2" fill="#222" text-anchor="start" transform="rotate(-90 454.4 245.4)" >g</text>
<text x="458.9" y="240.9" font-size="7.0" fill="#222" text-anchor="start" transform="rotate(-90 458.9 240.9)" >SI</text>
<text x="450.9" y="241.0" font-size="6.8" fill="#222" text-anchor="start" textLength="8.8" lengthAdjust="spacingAndGlyphs" transform="rotate(-90 450.9 241.0)" >(2)</text>
<path d="M475.10,273.30 L475.20,273.30 L475.30,273.30 L475.40,273.30 L475.50,273.30 L475.60,273.30 L475.70,273.30 L475.80,273.30 L475.90,273.30 L476.00,273.30 L476.10,273.30 L476.20,273.30 L476.30,273.30 L476.40,273.30 L476.50,273.30 L476.60,273.30 L476.70,273.30 L476.80,273.30 L476.90,273.30 L477.00,273.30 L477.10,273.30 L477.20,273.30 L477.30,273.30 L477.40,273.30 L477.50,273.30 L477.60,273.30 L477.70,273.30 L477.80,273.30 L477.90,273.30 L478.00,273.30 L478.10,273.30 L478.20,273.30 L478.30,273.30 L478.40,273.30 L478.50,273.30 L478.60,273.30 L478.70,273.30 L478.80,273.30 L478.90,273.30 L479.00,273.30 L479.10,273.30 L479.20,273.30 L479.30,273.30 L479.40,273.30 L479.50,273.30 L479.60,273.30 L479.70,273.30 L479.80,273.30 L479.90,273.30 L480.00,273.30 L480.10,273.30 L480.20,273.30 L480.30,273.30 L480.40,273.30 L480.50,273.30 L480.60,273.30 L480.70,273.30 L480.80,273.30 L480.90,273.30 L481.00,273.30 L481.10,273.30 L481.20,273.29 L481.30,273.29 L481.40,273.29 L481.50,273.29 L481.60,273.29 L481.70,273.29 L481.80,273.29 L481.90,273.29 L482.00,273.29 L482.10,273.29 L482.20,273.29 L482.30,273.29 L482.40,273.29 L482.50,273.29 L482.60,273.29 L482.70,273.29 L482.80,273.29 L482.90,273.29 L483.00,273.29 L483.10,273.29 L483.20,273.29 L483.30,273.29 L483.40,273.29 L483.50,273.29 L483.60,273.29 L483.70,273.29 L483.80,273.29 L483.90,273.29 L484.00,273.29 L484.10,273.29 L484.20,273.29 L484.30,273.29 L484.40,273.29 L484.50,273.29 L484.60,273.29 L484.70,273.29 L484.80,273.29 L484.90,273.29 L485.00,273.29 L485.10,273.29 L485.20,273.29 L485.30,273.29 L485.40,273.29 L485.50,273.29 L485.60,273.29 L485.70,273.29 L485.80,273.29 L485.90,273.29 L486.00,273.29 L486.10,273.29 L486.20,273.29 L486.30,273.29 L486.40,273.29 L486.50,273.29 L486.60,273.29 L486.70,273.29 L486.80,273.29 L486.90,273.29 L487.00,273.29 L487.10,273.29 L487.20,273.29 L487.30,273.29 L487.40,273.29 L487.50,273.29 L487.60,273.29 L487.70,273.29 L487.80,273.29 L487.90,273.29 L488.00,273.29 L488.10,273.29 L488.20,273.29 L488.30,273.29 L488.40,273.29 L488.50,273.29 L488.60,273.29 L488.70,273.29 L488.80,273.29 L488.90,273.29 L489.00,273.29 L489.10,273.29 L489.20,273.29 L489.30,273.29 L489.40,273.28 L489.50,273.28 L489.60,273.28 L489.70,273.28 L489.80,273.28 L489.90,273.28 L490.00,273.28 L490.10,273.28 L490.20,273.28 L490.30,273.28 L490.40,273.28 L490.50,273.28 L490.60,273.28 L490.70,273.28 L490.80,273.28 L490.90,273.28 L491.00,273.28 L491.10,273.28 L491.20,273.28 L491.30,273.28 L491.40,273.28 L491.50,273.28 L491.60,273.28 L491.70,273.28 L491.80,273.28 L491.90,273.28 L492.00,273.28 L492.10,273.28 L492.20,273.28 L492.30,273.28 L492.40,273.28 L492.50,273.28 L492.60,273.28 L492.70,273.28 L492.80,273.28 L492.90,273.28 L493.00,273.28 L493.10,273.28 L493.20,273.27 L493.30,273.27 L493.40,273.27 L493.50,273.27 L493.60,273.27 L493.70,273.27 L493.80,273.27 L493.90,273.27 L494.00,273.27 L494.10,273.27 L494.20,273.27 L494.30,273.27 L494.40,273.27 L494.50,273.27 L494.60,273.27 L494.70,273.27 L494.80,273.27 L494.90,273.27 L495.00,273.27 L495.10,273.27 L495.20,273.27 L495.30,273.27 L495.40,273.27 L495.50,273.27 L495.60,273.27 L495.70,273.26 L495.80,273.26 L495.90,273.26 L496.00,273.26 L496.10,273.26 L496.20,273.26 L496.30,273.26 L496.40,273.26 L496.50,273.26 L496.60,273.26 L496.70,273.26 L496.80,273.26 L496.90,273.26 L497.00,273.26 L497.10,273.26 L497.20,273.26 L497.30,273.26 L497.40,273.26 L497.50,273.26 L497.60,273.25 L497.70,273.25 L497.80,273.25 L497.90,273.25 L498.00,273.25 L498.10,273.25 L498.20,273.25 L498.30,273.25 L498.40,273.25 L498.50,273.25 L498.60,273.25 L498.70,273.25 L498.80,273.25 L498.90,273.25 L499.00,273.25 L499.10,273.24 L499.20,273.24 L499.30,273.24 L499.40,273.24 L499.50,273.24 L499.60,273.24 L499.70,273.24 L499.80,273.24 L499.90,273.24 L500.00,273.24 L500.10,273.24 L500.20,273.24 L500.30,273.24 L500.40,273.23 L500.50,273.23 L500.60,273.23 L500.70,273.23 L500.80,273.23 L500.90,273.23 L501.00,273.23 L501.10,273.23 L501.20,273.23 L501.30,273.23 L501.40,273.23 L501.50,273.22 L501.60,273.22 L501.70,273.22 L501.80,273.22 L501.90,273.22 L502.00,273.22 L502.10,273.22 L502.20,273.22 L502.30,273.22 L502.40,273.21 L502.50,273.21 L502.60,273.21 L502.70,273.21 L502.80,273.21 L502.90,273.21 L503.00,273.21 L503.10,273.21 L503.20,273.20 L503.30,273.20 L503.40,273.20 L503.50,273.20 L503.60,273.20 L503.70,273.20 L503.80,273.20 L503.90,273.20 L504.00,273.19 L504.10,273.19 L504.20,273.19 L504.30,273.19 L504.40,273.19 L504.50,273.19 L504.60,273.19 L504.70,273.18 L504.80,273.18 L504.90,273.18 L505.00,273.18 L505.10,273.18 L505.20,273.18 L505.30,273.17 L505.40,273.17 L505.50,273.17 L505.60,273.17 L505.70,273.17 L505.80,273.17 L505.90,273.16 L506.00,273.16 L506.10,273.16 L506.20,273.16 L506.30,273.16 L506.40,273.15 L506.50,273.15 L506.60,273.15 L506.70,273.15 L506.80,273.15 L506.90,273.14 L507.00,273.14 L507.10,273.14 L507.20,273.14 L507.30,273.13 L507.40,273.13 L507.50,273.13 L507.60,273.13 L507.70,273.12 L507.80,273.12 L507.90,273.11 L508.00,273.11 L508.10,273.10 L508.20,273.09 L508.30,273.08 L508.40,273.07 L508.50,273.05 L508.60,273.03 L508.70,273.00 L508.80,272.97 L508.90,272.92 L509.00,272.87 L509.10,272.80 L509.20,272.71 L509.30,272.60 L509.40,272.47 L509.50,272.30 L509.60,272.10 L509.70,271.86 L509.80,271.57 L509.90,271.22 L510.00,270.80 L510.10,270.31 L510.20,269.74 L510.30,269.07 L510.40,268.30 L510.50,267.41 L510.60,266.41 L510.70,265.28 L510.80,264.02 L510.90,262.62 L511.00,261.08 L511.10,259.40 L511.20,257.59 L511.30,255.64 L511.40,253.58 L511.50,251.41 L511.60,249.15 L511.70,246.83 L511.80,244.47 L511.90,242.08 L512.00,239.72 L512.10,237.40 L512.20,235.17 L512.30,233.05 L512.40,231.08 L512.50,229.30 L512.60,227.73 L512.70,226.40 L512.80,225.34 L512.90,224.57 L513.00,224.10 L513.10,223.94 L513.20,224.10 L513.30,224.57 L513.40,225.34 L513.50,226.40 L513.60,227.73 L513.70,229.30 L513.80,231.08 L513.90,233.05 L514.00,235.17 L514.10,237.40 L514.20,239.72 L514.30,242.08 L514.40,244.47 L514.50,246.83 L514.60,249.15 L514.70,251.41 L514.80,253.58 L514.90,255.64 L515.00,257.59 L515.10,259.40 L515.20,261.08 L515.30,262.62 L515.40,264.02 L515.50,265.28 L515.60,266.41 L515.70,267.41 L515.80,268.30 L515.90,269.07 L516.00,269.74 L516.10,270.31 L516.20,270.80 L516.30,271.22 L516.40,271.57 L516.50,271.86 L516.60,272.10 L516.70,272.30 L516.80,272.47 L516.90,272.60 L517.00,272.71 L517.10,272.80 L517.20,272.87 L517.30,272.92 L517.40,272.97 L517.50,273.00 L517.60,273.03 L517.70,273.05 L517.80,273.07 L517.90,273.08 L518.00,273.09 L518.10,273.10 L518.20,273.11 L518.30,273.11 L518.40,273.12 L518.50,273.12 L518.60,273.13 L518.70,273.13 L518.80,273.13 L518.90,273.13 L519.00,273.14 L519.10,273.14 L519.20,273.14 L519.30,273.14 L519.40,273.15 L519.50,273.15 L519.60,273.15 L519.70,273.15 L519.80,273.15 L519.90,273.16 L520.00,273.16 L520.10,273.16 L520.20,273.16 L520.30,273.16 L520.40,273.17 L520.50,273.17 L520.60,273.17 L520.70,273.17 L520.80,273.17 L520.90,273.17 L521.00,273.18 L521.10,273.18 L521.20,273.18 L521.30,273.18 L521.40,273.18 L521.50,273.18 L521.60,273.19 L521.70,273.19 L521.80,273.19 L521.90,273.19 L522.00,273.19 L522.10,273.19 L522.20,273.19 L522.30,273.20 L522.40,273.20 L522.50,273.20 L522.60,273.20 L522.70,273.20 L522.80,273.20 L522.90,273.20 L523.00,273.20 L523.10,273.21 L523.20,273.21 L523.30,273.21 L523.40,273.21 L523.50,273.21 L523.60,273.21 L523.70,273.21 L523.80,273.21 L523.90,273.22 L524.00,273.22 L524.10,273.22 L524.20,273.22 L524.30,273.22 L524.40,273.22 L524.50,273.22 L524.60,273.22 L524.70,273.22 L524.80,273.23 L524.90,273.23 L525.00,273.23 L525.10,273.23 L525.20,273.23 L525.30,273.23 L525.40,273.23 L525.50,273.23 L525.60,273.23 L525.70,273.23 L525.80,273.23 L525.90,273.24 L526.00,273.24 L526.10,273.24 L526.20,273.24 L526.30,273.24 L526.40,273.24 L526.50,273.24 L526.60,273.24 L526.70,273.24 L526.80,273.24 L526.90,273.24 L527.00,273.24 L527.10,273.24 L527.20,273.25 L527.30,273.25 L527.40,273.25 L527.50,273.25 L527.60,273.25 L527.70,273.25 L527.80,273.25 L527.90,273.25 L528.00,273.25 L528.10,273.25 L528.20,273.25 L528.30,273.25 L528.40,273.25 L528.50,273.25 L528.60,273.25 L528.70,273.26 L528.80,273.26 L528.90,273.26 L529.00,273.26 L529.10,273.26 L529.20,273.26 L529.30,273.26 L529.40,273.26 L529.50,273.26 L529.60,273.26 L529.70,273.26 L529.80,273.26 L529.90,273.26 L530.00,273.26 L530.10,273.26 L530.20,273.26 L530.30,273.26 L530.40,273.26 L530.50,273.26 L530.60,273.27 L530.70,273.27 L530.80,273.27 L530.90,273.27 L531.00,273.27 L531.10,273.27 L531.20,273.27 L531.30,273.27 L531.40,273.27 L531.50,273.27 L531.60,273.27 L531.70,273.27 L531.80,273.27 L531.90,273.27 L532.00,273.27 L532.10,273.27 L532.20,273.27 L532.30,273.27 L532.40,273.27 L532.50,273.27 L532.60,273.27 L532.70,273.27 L532.80,273.27 L532.90,273.27 L533.00,273.27 L533.10,273.28 L533.20,273.28 L533.30,273.28 L533.40,273.28 L533.50,273.28 L533.60,273.28 L533.70,273.28 L533.80,273.28 L533.90,273.28 L534.00,273.28 L534.10,273.28 L534.20,273.28 L534.30,273.28 L534.40,273.28 L534.50,273.28 L534.60,273.28 L534.70,273.28 L534.80,273.28 L534.90,273.28 L535.00,273.28 L535.10,273.28 L535.20,273.28 L535.30,273.28 L535.40,273.28 L535.50,273.28 L535.60,273.28 L535.70,273.28 L535.80,273.28 L535.90,273.28 L536.00,273.28 L536.10,273.28 L536.20,273.28 L536.30,273.28 L536.40,273.28 L536.50,273.28 L536.60,273.28 L536.70,273.28 L536.80,273.28 L536.90,273.29 L537.00,273.29 L537.10,273.29 L537.20,273.29 L537.30,273.29 L537.40,273.29 L537.50,273.29 L537.60,273.29 L537.70,273.29 L537.80,273.29 L537.90,273.29 L538.00,273.29 L538.10,273.29 L538.20,273.29 L538.30,273.29 L538.40,273.29 L538.50,273.29 L538.60,273.29 L538.70,273.29 L538.80,273.29 L538.90,273.29 L539.00,273.29 L539.10,273.29 L539.20,273.29 L539.30,273.29 L539.40,273.29 L539.50,273.29 L539.60,273.29 L539.70,273.29 L539.80,273.29 L539.90,273.29 L540.00,273.29 L540.10,273.29 L540.20,273.29 L540.30,273.29 L540.40,273.29 L540.50,273.29 L540.60,273.29 L540.70,273.29 L540.80,273.29 L540.90,273.29 L541.00,273.29 L541.10,273.29 L541.20,273.29 L541.30,273.29 L541.40,273.29 L541.50,273.29 L541.60,273.29 L541.70,273.29 L541.80,273.29 L541.90,273.29 L542.00,273.29 L542.10,273.29 L542.20,273.29 L542.30,273.29 L542.40,273.29 L542.50,273.29 L542.60,273.29 L542.70,273.29 L542.80,273.29 L542.90,273.29 L543.00,273.29 L543.10,273.29 L543.20,273.29 L543.30,273.29 L543.40,273.29 L543.50,273.29 L543.60,273.29 L543.70,273.29 L543.80,273.29 L543.90,273.29 L544.00,273.29 L544.10,273.29 L544.20,273.29 L544.30,273.29 L544.40,273.29 L544.50,273.29 L544.60,273.29 L544.70,273.29 L544.80,273.29 L544.90,273.29 L545.00,273.29 L545.10,273.30 L545.20,273.30 L545.30,273.30 L545.40,273.30 L545.50,273.30 L545.60,273.30 L545.70,273.30 L545.80,273.30 L545.90,273.30 L546.00,273.30 L546.10,273.30 L546.20,273.30 L546.30,273.30 L546.40,273.30 L546.50,273.30 L546.60,273.30 L546.70,273.30 L546.80,273.30 L546.90,273.30 L547.00,273.30 L547.10,273.30 L547.20,273.30 L547.30,273.30 L547.40,273.30 L547.50,273.30 L547.60,273.30 L547.70,273.30 L547.80,273.30 L547.90,273.30 L548.00,273.30 L548.10,273.30 L548.20,273.30 L548.30,273.30 L548.40,273.30 L548.50,273.30 L548.60,273.30 L548.70,273.30 L548.80,273.30 L548.90,273.30 L549.00,273.30 L549.10,273.30 L549.20,273.30 L549.30,273.30 L549.40,273.30 L549.50,273.30 L549.60,273.30 L549.70,273.30 L549.80,273.30 L549.90,273.30 L550.00,273.30 L550.10,273.30 L550.20,273.30 L550.30,273.30 L550.40,273.30 L550.50,273.30 L550.60,273.30 L550.70,273.30 L550.80,273.30 L550.90,273.30 L551.00,273.30 L551.10,273.30 L551.20,273.30 L551.30,273.30 L551.40,273.30 L551.50,273.30 L551.60,273.30 L551.70,273.30 L551.80,273.30 L551.90,273.30 L552.00,273.30 L552.10,273.30 L552.20,273.30 L552.30,273.30 L552.40,273.30 L552.50,273.30" fill="none" stroke="#333" stroke-width="0.8"/>
</svg>
</body></html>
